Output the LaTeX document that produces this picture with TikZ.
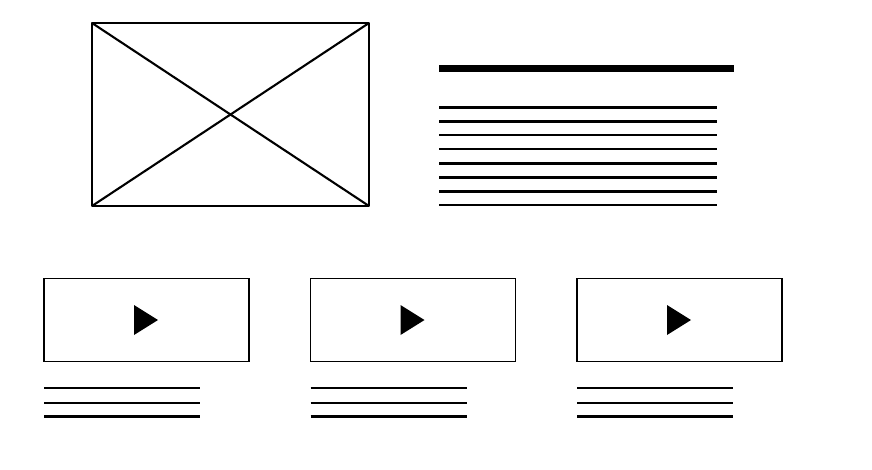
\documentclass[tikz,border=0pt]{standalone}
\begin{document}
\begin{tikzpicture}[x=1pt, y=-1pt]
		\useasboundingbox (0,0) rectangle (872,469);

		% Immagine
		\draw[line width=2.4pt, line join=round] (92,23) rectangle (369,206);
		\draw[line width=2.1pt] (92,23) -- (369,206);
		\draw[line width=2.1pt] (92,206) -- (369,23);

		% Titolo e testo
		\draw[line width=7pt] (439,68) -- (734,68);
		\foreach \y in {107.5,121.5,135,149,163.5,177.5,191.5,205}
			\draw[line width=2.6pt] (439,\y) -- (717,\y);

		% Video
		\foreach \dx in {0,266.5,533}
		{
			\draw[line width=1.1pt] (44+\dx,278.5) rectangle (249+\dx,361.5);
			\fill[black] (134+\dx,305) -- (158+\dx,320) -- (134+\dx,335) -- cycle;
			\draw[line width=2.4pt] (44+\dx,388) -- (200+\dx,388);
			\draw[line width=2.4pt] (44+\dx,403) -- (200+\dx,403);
			\draw[line width=2.4pt] (44+\dx,416.5) -- (200+\dx,416.5);
		}
	\end{tikzpicture}
\end{document}
